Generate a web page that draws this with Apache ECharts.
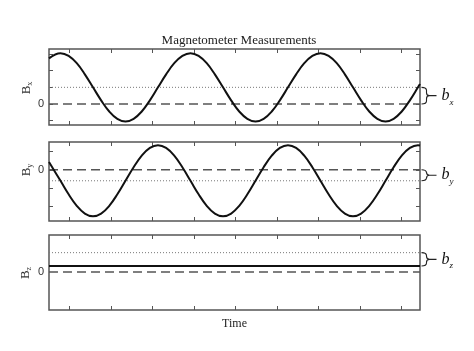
<!DOCTYPE html>
<html>
<head>
<meta charset="utf-8">
<script src="https://cdn.jsdelivr.net/npm/echarts@6/dist/echarts.min.js"></script>
<style>
  html, body { margin: 0; padding: 0; background: #fff; }
  #chart { width: 474px; height: 351px; }
</style>
</head>
<body>
<div id="chart"></div>
<script>
/* magnetometer measurements - three stacked panels */

// time samples (tick units), read every 1/16 of a cycle starting at the first peak of Bx
var times = [0, 0.277, 0.473, 0.669, 0.864, 1.060, 1.256, 1.452, 1.647, 1.843, 2.039, 2.235, 2.431,
    2.626, 2.822, 3.018, 3.214, 3.410, 3.605, 3.801, 3.997, 4.193, 4.389, 4.584, 4.780,
    4.976, 5.172, 5.367, 5.563, 5.759, 5.955, 6.151, 6.346, 6.542, 6.738, 6.934, 7.130,
    7.325, 7.521, 7.717, 7.913, 8.109, 8.304, 8.500, 8.696, 8.891, 8.94];
var bx = [2.74, 3.05, 2.89, 2.45, 1.78, 1.00, 0.22, -0.45, -0.89, -1.05, -0.89, -0.45, 0.22,
    1.00, 1.78, 2.45, 2.89, 3.05, 2.89, 2.45, 1.78, 1.00, 0.22, -0.45, -0.89,
    -1.05, -0.89, -0.45, 0.22, 1.00, 1.78, 2.45, 2.89, 3.05, 2.89, 2.45, 1.78,
    1.00, 0.22, -0.45, -0.89, -1.05, -0.89, -0.45, 0.22, 1.00, 1.20];
var by = [0.43, -0.61, -1.36, -2.00, -2.43, -2.58, -2.43, -2.00, -1.36, -0.61, 0.14, 0.78, 1.21,
    1.36, 1.21, 0.78, 0.14, -0.61, -1.36, -2.00, -2.43, -2.58, -2.43, -2.00, -1.36,
    -0.61, 0.14, 0.78, 1.21, 1.36, 1.21, 0.78, 0.14, -0.61, -1.36, -2.00, -2.43,
    -2.58, -2.43, -2.00, -1.36, -0.61, 0.14, 0.78, 1.21, 1.36, 1.35];
var bzTimes = [0, 8.94];
var bz = [0.36, 0.36];

// reference levels per panel
var zeroLevel = [0, 0, 0];
var biasLevel = [1.0, -0.61, 1.16];
var subs = ['x', 'y', 'z'];

// axes
var xMax = 8.94;
var timeTicks = [0.5, 1.5, 2.5, 3.5, 4.5, 5.5, 6.5, 7.5, 8.5];
var yMin = [-1.26, -2.84, -2.28];
var yMax = [3.3, 1.54, 2.22];
var yTicks = [[-1, 0, 1, 2, 3], [-2, -1, 0, 1], []];
var yLabels = [0];

var edge = '#555';
var serif = 'Liberation Serif';

var grids = [
    { left: 49, right: 54, top: 49, height: 76 },
    { left: 49, right: 54, top: 142, height: 79 },
    { left: 49, right: 54, top: 235, height: 75 }
];

function pairs(xs, ys) {
    var out = [];
    for (var i = 0; i < xs.length; i++) out.push([xs[i], ys[i]]);
    return out;
}

function braceRenderer(sub) {
    return function (params, api) {
        var p1 = api.coord([api.value(0), api.value(1)]);
        var p2 = api.coord([api.value(0), api.value(2)]);
        var x = p1[0] + 1.5;
        var top = Math.min(p1[1], p2[1]);
        var bot = Math.max(p1[1], p2[1]);
        var mid = (top + bot) / 2;
        var d = 'M' + x + ' ' + top +
            ' Q' + (x + 5) + ' ' + top + ' ' + (x + 5) + ' ' + (top + 3) +
            ' L' + (x + 5) + ' ' + (mid - 3) +
            ' Q' + (x + 5) + ' ' + mid + ' ' + (x + 8) + ' ' + mid +
            ' Q' + (x + 5) + ' ' + mid + ' ' + (x + 5) + ' ' + (mid + 3) +
            ' L' + (x + 5) + ' ' + (bot - 3) +
            ' Q' + (x + 5) + ' ' + bot + ' ' + x + ' ' + bot +
            ' M' + (x + 8) + ' ' + mid + ' L' + (x + 15) + ' ' + mid;
        return {
            type: 'group',
            children: [
                { type: 'path', shape: { pathData: d }, style: { fill: 'none', stroke: '#222', lineWidth: 1.1 } },
                {
                    type: 'text',
                    style: {
                        text: '{b|b}{s|' + sub + '}',
                        x: x + 20, y: mid,
                        verticalAlign: 'middle',
                        rich: {
                            b: { fontFamily: serif, fontStyle: 'italic', fontSize: 16, lineHeight: 16, fill: '#111' },
                            s: { fontFamily: serif, fontStyle: 'italic', fontSize: 9, lineHeight: 9, verticalAlign: 'bottom', fill: '#111', padding: [0, 0, -3, 0] }
                        }
                    }
                }
            ]
        };
    };
}

var xAxes = [], yAxes = [], series = [], graphics = [];

grids.forEach(function (g, i) {
    // bottom and top time axes
    ['bottom', 'top'].forEach(function (pos) {
        var ax = {
            type: 'value', gridIndex: i, position: pos, min: 0, max: xMax,
            axisLine: { show: false, onZero: false },
            splitLine: { show: false },
            axisTick: { show: true, inside: true, length: 4, customValues: timeTicks, lineStyle: { color: edge, width: 1 } },
            axisLabel: { show: false }
        };
        if (i === 2 && pos === 'bottom') {
            ax.name = 'Time';
            ax.nameLocation = 'middle';
            ax.nameGap = 8;
            ax.nameTextStyle = { fontFamily: serif, fontSize: 12, color: '#222', verticalAlign: 'top' };
        }
        xAxes.push(ax);
    });
    ['left', 'right'].forEach(function (pos) {
        yAxes.push({
            type: 'value', gridIndex: i, position: pos, min: yMin[i], max: yMax[i],
            axisLine: { show: false, onZero: false },
            splitLine: { show: false },
            axisTick: { show: yTicks[i].length > 0, inside: true, length: 4, customValues: yTicks[i], lineStyle: { color: edge, width: 1 } },
            axisLabel: {
                show: pos === 'left', customValues: yLabels, margin: 5,
                fontFamily: 'Liberation Sans', fontSize: 11, color: '#333'
            }
        });
    });

    var xi = i * 2, yi = i * 2;
    series.push({
        type: 'line', xAxisIndex: xi, yAxisIndex: yi, silent: true, showSymbol: false, z: 2,
        data: [[0, zeroLevel[i]], [xMax, zeroLevel[i]]],
        lineStyle: { color: '#555', width: 1.5, type: [9, 5] }
    });
    series.push({
        type: 'line', xAxisIndex: xi, yAxisIndex: yi, silent: true, showSymbol: false, z: 2,
        data: [[0, biasLevel[i]], [xMax, biasLevel[i]]],
        lineStyle: { color: '#777', width: 1, type: [1, 2] }
    });

    var signal = i === 0 ? pairs(times, bx) : i === 1 ? pairs(times, by) : pairs(bzTimes, bz);
    series.push({
        type: 'line', xAxisIndex: xi, yAxisIndex: yi, silent: true, showSymbol: false, z: 3,
        smooth: 0.4, data: signal,
        lineStyle: { color: '#111', width: 2 }
    });

    // brace from bias line to zero (or to measured line in the last panel)
    var other = i === 2 ? bz[bz.length - 1] : zeroLevel[i];
    series.push({
        type: 'custom', xAxisIndex: xi, yAxisIndex: yi, silent: true, clip: false, z: 4,
        renderItem: braceRenderer(subs[i]),
        data: [[xMax, biasLevel[i], other]]
    });
});

// rotated panel labels
var labelPos = [[27, 88], [27, 170], [26, 273]];
labelPos.forEach(function (p, i) {
    graphics.push({
        type: 'text', x: p[0], y: p[1], rotation: Math.PI / 2, silent: true,
        style: {
            text: '{b|B}{s|' + subs[i] + '}',
            align: 'center', verticalAlign: 'middle',
            rich: {
                b: { fontFamily: serif, fontSize: 13, lineHeight: 14, fill: '#333' },
                s: { fontFamily: serif, fontSize: 8, lineHeight: 8, verticalAlign: 'bottom', fill: '#333' }
            }
        }
    });
});

var chart = echarts.init(document.getElementById('chart'), null, { renderer: 'canvas' });
chart.setOption({
    animation: false,
    backgroundColor: '#fff',
    title: {
        text: 'Magnetometer Measurements',
        left: 234, top: 29, textAlign: 'center',
        textStyle: { fontFamily: serif, fontSize: 13, fontWeight: 'normal', color: '#222' }
    },
    grid: grids.map(function (g) {
        return { left: g.left, right: g.right, top: g.top, height: g.height, show: true, borderColor: edge, borderWidth: 1.5, backgroundColor: 'transparent' };
    }),
    xAxis: xAxes,
    yAxis: yAxes,
    series: series,
    graphic: graphics
});
</script>
</body>
</html>
